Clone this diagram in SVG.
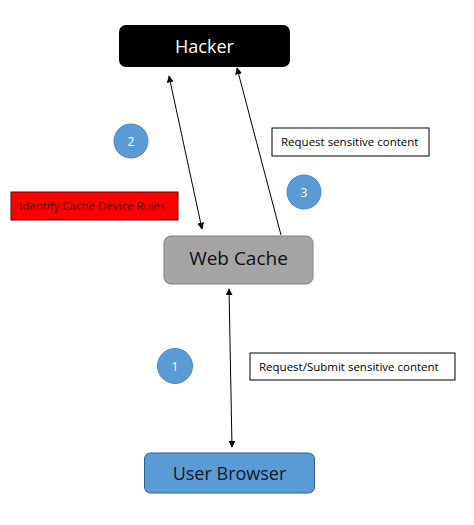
<svg xmlns="http://www.w3.org/2000/svg" width="474" height="525" viewBox="0 0 474 525">
<style>
text{font-family:"Open Sans","Noto Sans",sans-serif;}
.big{font-size:18px;text-anchor:middle;}
.lbl{font-size:11.5px;}
.num{font-size:12px;fill:#fff;text-anchor:middle;}
.circ{fill:#5b9bd5;stroke:#4a86be;stroke-width:1;}
.conn{stroke:#000;stroke-width:1;fill:none;marker-end:url(#ah);}
</style>
<defs>
<marker id="ah" viewBox="0 0 10 10" refX="9" refY="5" markerWidth="7" markerHeight="7" orient="auto-start-reverse" markerUnits="userSpaceOnUse">
<path d="M0,0L10,5L0,10z" fill="#000"/>
</marker>
</defs>
<rect width="474" height="525" fill="#fff"/>
<g id="connectors">
<line class="conn" x1="202" y1="229" x2="169" y2="76" style="marker-start:url(#ah)"/>
<line class="conn" x1="281" y1="235" x2="237" y2="68"/>
<line class="conn" x1="229" y1="289" x2="232" y2="447" style="marker-start:url(#ah)"/>
</g>
<g id="hacker">
<rect x="119" y="25" width="171" height="42" rx="7" fill="#000"/>
<text class="big" x="204.5" y="52.5" fill="#fff">Hacker</text>
</g>
<g id="webcache">
<rect x="164" y="236" width="149" height="48" rx="7" fill="#a5a5a5" stroke="#7f7f7f"/>
<text class="big" x="238.5" y="264.5" fill="#111" style="font-size:19px">Web Cache</text>
</g>
<g id="userbrowser">
<rect x="144.5" y="453" width="170" height="40" rx="6" fill="#5b9bd5" stroke="#2f5f8f"/>
<text class="big" x="229.5" y="479.5" fill="#0d1b2a">User Browser</text>
</g>
<g id="step2">
<circle class="circ" cx="131" cy="141" r="17"/>
<text class="num" x="131" y="145.5">2</text>
</g>
<g id="step3">
<circle class="circ" cx="304" cy="192" r="17"/>
<text class="num" x="304" y="196.5">3</text>
</g>
<g id="step1">
<circle class="circ" cx="175" cy="366" r="17.5"/>
<text class="num" x="175" y="370.5">1</text>
</g>
<g id="label-request">
<rect x="272" y="128" width="157" height="28" fill="#fff" stroke="#000"/>
<text class="lbl" x="281" y="146">Request sensitive content</text>
</g>
<g id="label-identify">
<rect x="11" y="192" width="167" height="28" fill="#ff0000" stroke="#600"/>
<text class="lbl" x="19" y="210" fill="#5a0000">Identify Cache Device Rules</text>
</g>
<g id="label-submit">
<rect x="250" y="353" width="205" height="27" fill="#fff" stroke="#000"/>
<text class="lbl" x="259" y="370.5">Request/Submit sensitive content</text>
</g>
</svg>
